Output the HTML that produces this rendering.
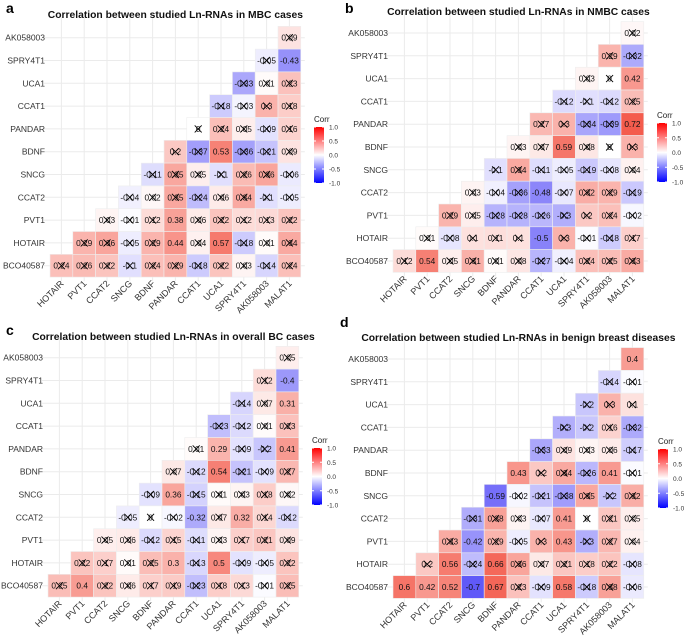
<!DOCTYPE html>
<html><head><meta charset="utf-8"><style>
body{margin:0;background:#fff}
svg{display:block;font-family:"Liberation Sans",Arial,sans-serif}
</style></head><body>
<svg id="fig" width="685" height="637" viewBox="0 0 685 637"></svg>
<script>
const rowLabels = ["AK058003","SPRY4T1","UCA1","CCAT1","PANDAR","BDNF","SNCG","CCAT2","PVT1","HOTAIR","BCO40587"];
const colLabels = ["HOTAIR","PVT1","CCAT2","SNCG","BDNF","PANDAR","CCAT1","UCA1","SPRY4T1","AK058003","MALAT1"];
const legendTicks = [1.0,0.5,0.0,-0.5,-1.0];

const valuesA = [
 [0.09],
 [-0.05,-0.43],
 [-0.33,0.01,0.23],
 [-0.18,-0.03,0.3,0.18],
 [0,0.24,0.05,-0.09,0.16],
 [0.2,-0.37,0.53,-0.36,-0.21,0.09],
 [-0.11,0.35,0.05,-0.1,0.26,0.36,-0.06],
 [-0.04,0.02,0.35,-0.24,0.06,0.34,-0.1,-0.05],
 [0.03,-0.01,0.12,0.38,0.06,0.22,0.12,0.13,0.22],
 [0.29,0.36,-0.05,0.29,0.44,0.04,0.57,-0.18,0.01,0.34],
 [0.24,0.26,0.22,-0.1,0.24,0.29,-0.18,0.22,0.03,-0.14,0.24]];
const valuesB = [
 [0.02],
 [0.29,-0.32],
 [0.03,0,0.42],
 [-0.12,-0.1,-0.12,0.25],
 [0.27,0.3,-0.34,-0.39,0.72],
 [0.03,0.07,0.59,0.08,0,0.3],
 [-0.1,0.34,-0.11,-0.05,-0.19,-0.08,0.04],
 [0.03,-0.04,-0.36,-0.48,-0.07,0.32,0.29,-0.19],
 [0.29,0.05,-0.28,-0.28,-0.26,-0.3,0.2,0.24,-0.02],
 [0.01,-0.08,0.1,0.11,0.1,-0.5,0.3,-0.01,-0.18,0.17],
 [0.12,0.54,0.05,0.31,0.01,0.08,-0.27,-0.04,0.24,0.25,0.33]];
const valuesC = [
 [0.05],
 [0.12,-0.4],
 [-0.14,0.07,0.31],
 [-0.23,-0.12,0.01,0.23],
 [0.01,0.29,-0.09,-0.2,0.41],
 [0.07,-0.12,0.54,-0.21,-0.09,0.27],
 [-0.09,0.36,-0.15,0.01,0.03,0.18,0.02],
 [-0.05,0,-0.02,-0.32,0.07,0.32,0.14,-0.12],
 [0.05,0.06,-0.12,0.15,-0.11,0.03,0.17,0.21,0.09],
 [0.22,0.17,0.01,0.25,0.3,-0.13,0.5,-0.09,-0.05,0.22],
 [0.25,0.4,0.22,0.06,0.17,0.19,-0.23,0.18,0.13,-0.01,0.25]];
const valuesD = [
 [0.4],
 [-0.14,-0.01],
 [-0.2,0.3,0.1],
 [-0.3,-0.2,0.16,-0.32],
 [-0.33,0.09,0.03,0.06,-0.17],
 [0.43,0.2,0.34,-0.26,0.41,-0.01],
 [-0.59,-0.02,-0.21,-0.38,0.35,-0.2,0.32],
 [-0.31,0.38,0.03,-0.07,0.41,0,0.21,0.05],
 [0.33,-0.42,0.29,-0.05,0.3,0.43,-0.3,0.27,0.04],
 [0.2,0.56,-0.24,0.66,0.36,0.07,0.21,0.18,0.22,-0.08],
 [0.6,0.42,0.52,-0.7,0.67,0.23,-0.09,0.58,-0.18,0.38,-0.06]];

const NS="http://www.w3.org/2000/svg";
const svg=document.getElementById('fig');
function mk(tag,attrs,parent,text){const e=document.createElementNS(NS,tag);for(const k in attrs)e.setAttribute(k,attrs[k]);if(text!==undefined)e.textContent=text;(parent||svg).appendChild(e);return e;}
function color(v){
  const t=Math.min(1,Math.abs(v));
  const s=Math.pow(t,0.85);
  const lerp=(a,b)=>Math.round(a+(b-a)*s);
  if(v>=0) return `rgb(${lerp(255,240)},${lerp(255,40)},${lerp(255,20)})`;
  return `rgb(${lerp(255,40)},${lerp(255,30)},${lerp(255,245)})`;
}
function fmt(v){return String(Math.round(v*100)/100);}

const defs=mk('defs',{});
const grad=mk('linearGradient',{id:'lg',x1:0,y1:0,x2:0,y2:1},defs);
mk('stop',{offset:'0%','stop-color':'#ff0000'},grad);
mk('stop',{offset:'50%','stop-color':'#ffffff'},grad);
mk('stop',{offset:'100%','stop-color':'#0000ff'},grad);

function panel(p){
  const g=mk('g',{});
  
  
  const cs=22.8, n=11;
  const L=p.left,T=p.top,R=L+cs*n,B=T+cs*n;
  const cx=c=>L+cs*(c+0.5), cy=r=>T+cs*(r+0.5);
  for(let c=0;c<n;c++){const l=mk('line',{x1:cx(c),x2:cx(c),y1:T-9,y2:B+4,stroke:'#ebebeb','stroke-width':1},g);}
  for(let r=0;r<n;r++){const l=mk('line',{x1:L-6,x2:R+4,y1:cy(r),y2:cy(r),stroke:'#ebebeb','stroke-width':1},g);}
  p.values.forEach((row,r)=>{
    const start=n-row.length;
    row.forEach((v,i)=>{
      const c=start+i;
      const rect=mk('rect',{x:L+cs*c,y:T+cs*r,width:cs,height:cs,fill:color(v),stroke:'#eeeeee','stroke-width':0.6},g);
      
      
      const t=mk('text',{x:cx(c),y:cy(r)+3,'font-size':8.3,'text-anchor':'middle',fill:'#111'},g,fmt(v));
      
      
      if(Math.abs(v)<p.thr){
        const x0=cx(c),y0=cy(r),d=3.5;
        const x=mk('path',{d:`M${x0-d} ${y0-d}L${x0+d} ${y0+d}M${x0+d} ${y0-d}L${x0-d} ${y0+d}`,stroke:'#000','stroke-width':0.9,fill:'none'},g);
        
        
      }
    });
  });
  rowLabels.forEach((lab,r)=>{const t=mk('text',{x:L-5,y:cy(r)+3,'font-size':8.5,'text-anchor':'end',fill:'#333'},g,lab);});
  colLabels.forEach((lab,c)=>{const x=cx(c)+3,y=B+7;const t=mk('text',{x:x,y:y,'font-size':9,'text-anchor':'end',fill:'#333',transform:`rotate(-45 ${x} ${y})`},g,lab);});
  const tt=mk('text',{x:(L+R)/2,y:p.titleY,'font-size':10.3,'font-weight':'bold','text-anchor':'middle',fill:'#111'},g,p.title);
  
  const lt=mk('text',{x:p.lx,y:p.ly,'font-size':14,'font-weight':'bold',fill:'#000'},g,p.letter);
  
  const lg=mk('g',{},g);
  mk('text',{x:p.legX,y:p.legY-5,'font-size':8,fill:'#222'},lg,'Corr');
  mk('rect',{x:p.legX,y:p.legY,width:10,height:p.legH,fill:'url(#lg)'},lg);
  legendTicks.forEach(tv=>{const y=p.legY+(1-tv)/2*p.legH;mk('text',{x:p.legX+15,y:y+2.5,'font-size':6.5,fill:'#333'},lg,tv.toFixed(1));
    mk('line',{x1:p.legX,x2:p.legX+2,y1:y,y2:y,stroke:'#fff'},lg);mk('line',{x1:p.legX+8,x2:p.legX+10,y1:y,y2:y,stroke:'#fff'},lg);});
}
panel({letter:'a',values:valuesA,thr:0.38,left:50,top:26.3,title:'Correlation between studied Ln-RNAs in MBC cases',titleY:18,lx:6,ly:13,legX:314,legY:127,legH:56});
panel({letter:'b',values:valuesB,thr:0.40,left:393,top:21.6,title:'Correlation between studied Ln-RNAs in NMBC cases',titleY:15,lx:345,ly:13,legX:657,legY:123,legH:59});
panel({letter:'c',values:valuesC,thr:0.28,left:48,top:346.3,title:'Correlation between studied Ln-RNAs in overall BC cases',titleY:340,lx:6,ly:335,legX:312,legY:448,legH:57});
panel({letter:'d',values:valuesD,thr:0.40,left:393,top:347.6,title:'Correlation between studied Ln-RNAs in benign breast diseases',titleY:341,lx:340,ly:327,legX:658,legY:449,legH:59});
</script>
</body></html>
